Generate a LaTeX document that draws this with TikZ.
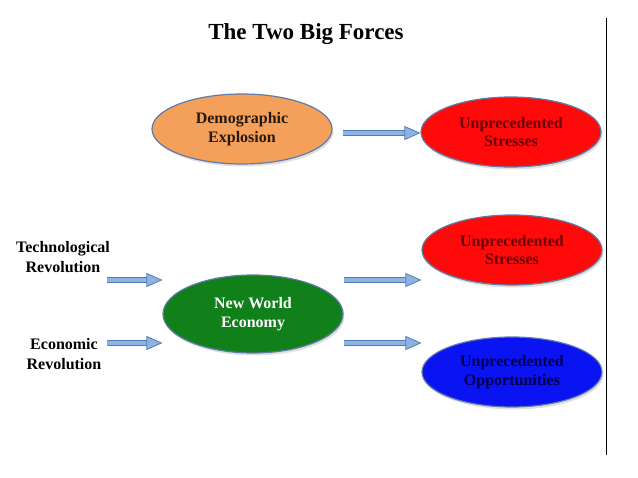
\documentclass[tikz,border=0pt]{standalone}
\usepackage{fontspec}
\setmainfont{Liberation Serif}
\usepackage{tikz}
\usetikzlibrary{shapes.geometric,arrows.meta,shadows}

\definecolor{demofill}{HTML}{F4A05A}
\definecolor{stressfill}{HTML}{FF0A0A}
\definecolor{ecofill}{HTML}{11801A}
\definecolor{oppfill}{HTML}{0A14F2}
\definecolor{blobedge}{HTML}{5F7BA8}
\definecolor{arrowfill}{HTML}{8DB3E2}
\definecolor{arrowedge}{HTML}{4F7DBA}

\tikzset{
  blob/.style={ellipse, draw=blobedge, line width=1.2pt, minimum width=180pt,
    minimum height=70pt, align=center, font=\fontsize{16}{18.5}\selectfont\bfseries,
    drop shadow={opacity=0.25, shadow xshift=1.5pt, shadow yshift=-2.5pt}},
  sidetext/.style={align=center, font=\fontsize{16}{19.5}\selectfont\bfseries},
  bluearrow/.style={draw=arrowedge, line width=0.8pt, double=arrowfill, double distance=4.5pt,
    -{Triangle[length=16pt,width=14pt,fill=arrowfill,line width=0.8pt]}}
}

\begin{document}
\begin{tikzpicture}[x=1pt,y=-1pt]
    \useasboundingbox (0,0) rectangle (638,478);
    \node[font=\fontsize{23}{26}\selectfont\bfseries] (title) at (306,34) {The Two Big Forces};
    \draw[line width=1pt] (606,18) -- (606,455);

    % Demographic force
    \node[blob, fill=demofill, text=black!80!brown] (demo) at (242,129) {Demographic\\Explosion};
    \node[blob, fill=stressfill, text=red!40!black] (stressA) at (511,132) {Unprecedented\\Stresses};
    \coordinate (demoout) at (343,133);
    \draw[bluearrow] (demoout) -- (demoout -| stressA.west);

    % Economic force
    \node[sidetext] (tech) at (63,257) {Technological\\Revolution};
    \node[sidetext] (econ) at (64,354) {Economic\\Revolution};
    \node[blob, fill=ecofill, text=white, minimum height=78pt] (eco) at (253,314) {New World\\Economy};
    \node[blob, fill=stressfill, text=red!40!black] (stressB) at (512,250) {Unprecedented\\Stresses};
    \node[blob, fill=oppfill, text=blue!30!black] (opp) at (512,372) {Unprecedented\\Opportunities};
    \coordinate (techout) at (107,280);
    \coordinate (econout) at (107,343);
    \draw[bluearrow] (techout) -- (techout -| eco.west);
    \draw[bluearrow] (econout) -- (econout -| eco.west);
    \draw[bluearrow] (techout -| eco.east) -- (techout -| stressB.west);
    \draw[bluearrow] (econout -| eco.east) -- (econout -| opp.west);
\end{tikzpicture}
\end{document}
